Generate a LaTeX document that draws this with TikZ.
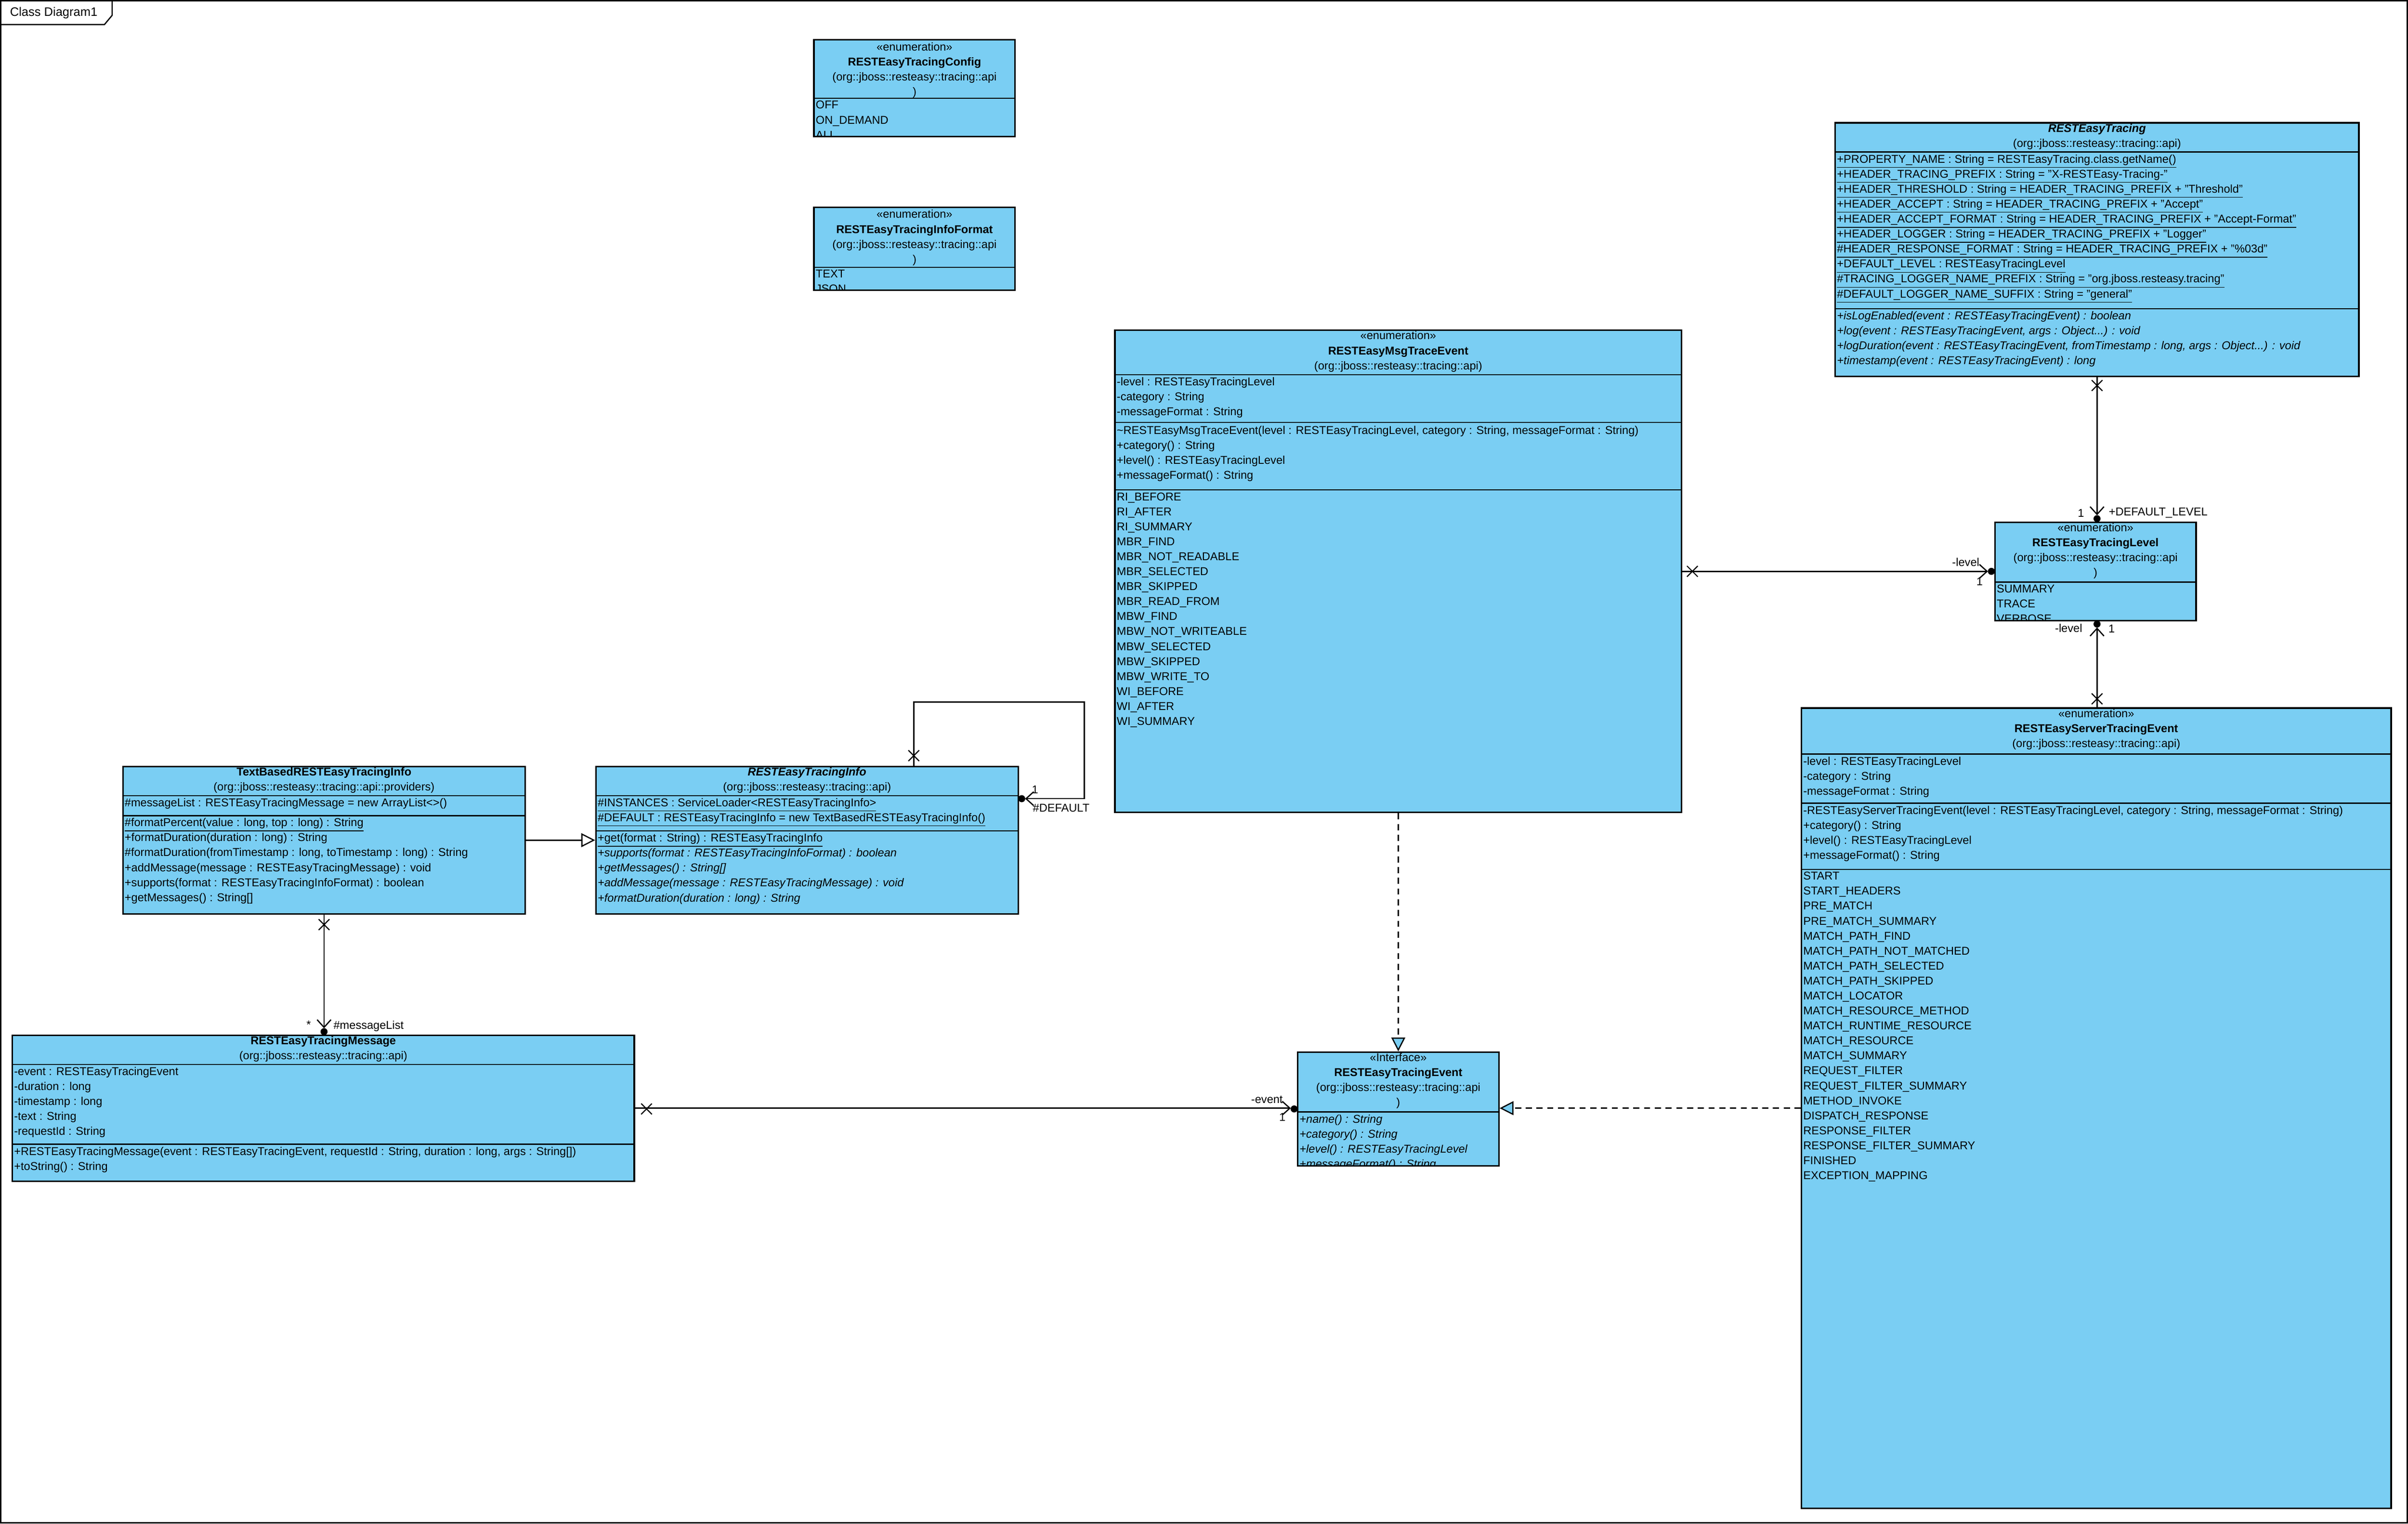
\documentclass[tikz,border=0pt]{standalone}
\usepackage{fontspec}
\setmainfont{Liberation Sans}
\usetikzlibrary{fit,arrows.meta}
\definecolor{boxblue}{RGB}{122,206,243}
\tikzset{
  umlbox/.style={inner sep=0pt, draw, fill=boxblue, line width=1pt},
  txt/.style={inner sep=0pt, font=\fontsize{7.4}{9.75}\selectfont, align=left, anchor=north west},
  hdr/.style={inner sep=0pt, font=\fontsize{7.4}{9.75}\selectfont, align=center, anchor=north},
  lbl/.style={inner sep=0pt, font=\fontsize{7.4}{9}\selectfont},
  nav/.style={line width=0.8pt, -{Straight Barb[length=5pt,width=9pt]}, shorten >=4pt},
  gen/.style={line width=0.8pt, -{Triangle[open,length=9pt,width=9pt,fill=white]}},
  real/.style={line width=0.8pt, dashed, dash pattern=on 4pt off 3pt, -{Triangle[length=9pt,width=9pt,fill=boxblue]}},
  cmp/.style={line width=0.8pt}
}
\newcommand\xmk[2]{\draw[line width=0.7pt] (#1-3.5,#2-3.5) -- (#1+3.5,#2+3.5) (#1-3.5,#2+3.5) -- (#1+3.5,#2-3.5);}
\newcommand\dotmk[2]{\fill (#1,#2) circle (2.3);}
\begin{document}
\begin{tikzpicture}[x=1pt,y=-1pt]
\useasboundingbox (0,0) rectangle (1568,992);
\draw[line width=1pt] (0.5,0.5) rectangle (1567.5,991.5);
\draw[line width=0.8pt] (0.5,16) -- (68,16) -- (73,10) -- (73,0.5);
\node[lbl, font=\fontsize{8}{9}\selectfont] at (35,8.5) {Class Diagram1};

% ---- RESTEasyTracingConfig
\node[umlbox, fit={(530,26)(661,89)}] (cfg) {};
\draw[cmp] (530,64) -- (661,64);
\node[hdr] at (595.5,27.5) {<<enumeration>>\\\textbf{RESTEasyTracingConfig}\\(org::jboss::resteasy::tracing::api\\)};
\begin{scope}\clip (530,64) rectangle (661,88.5);
\node[txt] at (531,65.5) {OFF\\ON\_DEMAND\\ALL};
\end{scope}

% ---- RESTEasyTracingInfoFormat
\node[umlbox, fit={(530,135)(661,189)}] (fmt) {};
\draw[cmp] (530,174) -- (661,174);
\node[hdr] at (595.5,136.5) {<<enumeration>>\\\textbf{RESTEasyTracingInfoFormat}\\(org::jboss::resteasy::tracing::api\\)};
\begin{scope}\clip (530,174) rectangle (661,188.5);
\node[txt] at (531,175.5) {TEXT\\JSON};
\end{scope}

% ---- RESTEasyTracing
\node[umlbox, fit={(1195,80)(1536,245)}] (tr) {};
\draw[cmp] (1195,99) -- (1536,99);
\draw[cmp] (1195,201) -- (1536,201);
\node[hdr] at (1365.5,80.5) {\textbf{\textit{RESTEasyTracing}}\\(org::jboss::resteasy::tracing::api)};
\node[txt] at (1196,100.5) {\underline{+PROPERTY\_NAME : String = RESTEasyTracing.class.getName()}\\
\underline{+HEADER\_TRACING\_PREFIX : String = "X-RESTEasy-Tracing-"}\\
\underline{+HEADER\_THRESHOLD : String = HEADER\_TRACING\_PREFIX + "Threshold"}\\
\underline{+HEADER\_ACCEPT : String = HEADER\_TRACING\_PREFIX + "Accept"}\\
\underline{+HEADER\_ACCEPT\_FORMAT : String = HEADER\_TRACING\_PREFIX + "Accept-Format"}\\
\underline{+HEADER\_LOGGER : String = HEADER\_TRACING\_PREFIX + "Logger"}\\
\underline{\#HEADER\_RESPONSE\_FORMAT : String = HEADER\_TRACING\_PREFIX + "\%03d"}\\
\underline{+DEFAULT\_LEVEL : RESTEasyTracingLevel}\\
\underline{\#TRACING\_LOGGER\_NAME\_PREFIX : String = "org.jboss.resteasy.tracing"}\\
\underline{\#DEFAULT\_LOGGER\_NAME\_SUFFIX : String = "general"}};
\node[txt, font=\fontsize{7.4}{9.75}\selectfont\itshape] at (1196,202.5) {+isLogEnabled(event : RESTEasyTracingEvent) : boolean\\
+log(event : RESTEasyTracingEvent, args : Object...) : void\\
+logDuration(event : RESTEasyTracingEvent, fromTimestamp : long, args : Object...) : void\\
+timestamp(event : RESTEasyTracingEvent) : long};

% ---- RESTEasyMsgTraceEvent
\node[umlbox, fit={(726,215)(1095,529)}] (mte) {};
\draw[cmp] (726,244) -- (1095,244);
\draw[cmp] (726,275) -- (1095,275);
\draw[cmp] (726,319) -- (1095,319);
\node[hdr] at (910.5,215.5) {<<enumeration>>\\\textbf{RESTEasyMsgTraceEvent}\\(org::jboss::resteasy::tracing::api)};
\node[txt] at (727,245.5) {-level : RESTEasyTracingLevel\\-category : String\\-messageFormat : String};
\node[txt] at (727,277) {\textasciitilde RESTEasyMsgTraceEvent(level : RESTEasyTracingLevel, category : String, messageFormat : String)\\+category() : String\\+level() : RESTEasyTracingLevel\\+messageFormat() : String};
\node[txt] at (727,320.5) {RI\_BEFORE\\RI\_AFTER\\RI\_SUMMARY\\MBR\_FIND\\MBR\_NOT\_READABLE\\MBR\_SELECTED\\MBR\_SKIPPED\\MBR\_READ\_FROM\\MBW\_FIND\\MBW\_NOT\_WRITEABLE\\MBW\_SELECTED\\MBW\_SKIPPED\\MBW\_WRITE\_TO\\WI\_BEFORE\\WI\_AFTER\\WI\_SUMMARY};

% ---- RESTEasyTracingLevel
\node[umlbox, fit={(1299,340)(1430,404)}] (lvl) {};
\draw[cmp] (1299,379) -- (1430,379);
\node[hdr] at (1364.5,340.5) {<<enumeration>>\\\textbf{RESTEasyTracingLevel}\\(org::jboss::resteasy::tracing::api\\)};
\begin{scope}\clip (1299,379) rectangle (1430,403.5);
\node[txt] at (1300,380.5) {SUMMARY\\TRACE\\VERBOSE};
\end{scope}

% ---- RESTEasyServerTracingEvent
\node[umlbox, fit={(1173,461)(1557,982)}] (srv) {};
\draw[cmp] (1173,491) -- (1557,491);
\draw[cmp] (1173,523) -- (1557,523);
\draw[cmp] (1173,566) -- (1557,566);
\node[hdr] at (1365,461.5) {<<enumeration>>\\\textbf{RESTEasyServerTracingEvent}\\(org::jboss::resteasy::tracing::api)};
\node[txt] at (1174,492.5) {-level : RESTEasyTracingLevel\\-category : String\\-messageFormat : String};
\node[txt] at (1174,524.5) {-RESTEasyServerTracingEvent(level : RESTEasyTracingLevel, category : String, messageFormat : String)\\+category() : String\\+level() : RESTEasyTracingLevel\\+messageFormat() : String};
\node[txt] at (1174,567.5) {START\\START\_HEADERS\\PRE\_MATCH\\PRE\_MATCH\_SUMMARY\\MATCH\_PATH\_FIND\\MATCH\_PATH\_NOT\_MATCHED\\MATCH\_PATH\_SELECTED\\MATCH\_PATH\_SKIPPED\\MATCH\_LOCATOR\\MATCH\_RESOURCE\_METHOD\\MATCH\_RUNTIME\_RESOURCE\\MATCH\_RESOURCE\\MATCH\_SUMMARY\\REQUEST\_FILTER\\REQUEST\_FILTER\_SUMMARY\\METHOD\_INVOKE\\DISPATCH\_RESPONSE\\RESPONSE\_FILTER\\RESPONSE\_FILTER\_SUMMARY\\FINISHED\\EXCEPTION\_MAPPING};

% ---- TextBasedRESTEasyTracingInfo
\node[umlbox, fit={(80,499)(342,595)}] (tb) {};
\draw[cmp] (80,518) -- (342,518);
\draw[cmp] (80,531) -- (342,531);
\node[hdr] at (211,499.5) {\textbf{TextBasedRESTEasyTracingInfo}\\(org::jboss::resteasy::tracing::api::providers)};
\node[txt] at (81,519.5) {\#messageList : RESTEasyTracingMessage = new ArrayList<>()};
\node[txt] at (81,532.5) {\underline{\#formatPercent(value : long, top : long) : String}\\+formatDuration(duration : long) : String\\\#formatDuration(fromTimestamp : long, toTimestamp : long) : String\\+addMessage(message : RESTEasyTracingMessage) : void\\+supports(format : RESTEasyTracingInfoFormat) : boolean\\+getMessages() : String[]};

% ---- RESTEasyTracingInfo
\node[umlbox, fit={(388,499)(663,595)}] (info) {};
\draw[cmp] (388,518) -- (663,518);
\draw[cmp] (388,541) -- (663,541);
\node[hdr] at (525.5,499.5) {\textbf{\textit{RESTEasyTracingInfo}}\\(org::jboss::resteasy::tracing::api)};
\node[txt] at (389,519.5) {\underline{\#INSTANCES : ServiceLoader<RESTEasyTracingInfo>}\\\underline{\#DEFAULT : RESTEasyTracingInfo = new TextBasedRESTEasyTracingInfo()}};
\node[txt] at (389,542.5) {\underline{+get(format : String) : RESTEasyTracingInfo}\\\textit{+supports(format : RESTEasyTracingInfoFormat) : boolean}\\\textit{+getMessages() : String[]}\\\textit{+addMessage(message : RESTEasyTracingMessage) : void}\\\textit{+formatDuration(duration : long) : String}};

% ---- RESTEasyTracingMessage
\node[umlbox, fit={(8,674)(413,769)}] (msg) {};
\draw[cmp] (8,693) -- (413,693);
\draw[cmp] (8,745) -- (413,745);
\node[hdr] at (210.5,674.5) {\textbf{RESTEasyTracingMessage}\\(org::jboss::resteasy::tracing::api)};
\node[txt] at (9,694.5) {-event : RESTEasyTracingEvent\\-duration : long\\-timestamp : long\\-text : String\\-requestId : String};
\node[txt] at (9,746.5) {+RESTEasyTracingMessage(event : RESTEasyTracingEvent, requestId : String, duration : long, args : String[])\\+toString() : String};

% ---- RESTEasyTracingEvent
\node[umlbox, fit={(845,685)(976,759)}] (ev) {};
\draw[cmp] (845,724) -- (976,724);
\node[hdr] at (910.5,685.5) {<<Interface>>\\\textbf{RESTEasyTracingEvent}\\(org::jboss::resteasy::tracing::api\\)};
\begin{scope}\clip (845,724) rectangle (976,758.5);
\node[txt, font=\fontsize{7.4}{9.75}\selectfont\itshape] at (846,725.5) {+name() : String\\+category() : String\\+level() : RESTEasyTracingLevel\\+messageFormat() : String};
\end{scope}

% ---- connectors
\draw[nav] (tr.south) -- (lvl.north -| tr.south);
\xmk{1365.5}{251} \dotmk{1365.5}{337.7}
\node[lbl] at (1355,334) {1};
\node[lbl, anchor=west] at (1373,334) {+DEFAULT\_LEVEL};

\draw[nav] (mte.east |- lvl.west) -- (lvl.west);
\xmk{1102}{372} \dotmk{1296.7}{372}
\node[lbl] at (1280,366) {-level};
\node[lbl] at (1289,378.5) {1};

\draw[nav] (srv.north -| tr.south) -- (lvl.south -| tr.south);
\xmk{1365.5}{455} \dotmk{1365.5}{406.3}
\node[lbl] at (1347,409) {-level};
\node[lbl] at (1375,409.5) {1};

\draw[nav] (info.north -| 595,0) |- (706,457) |- (info.east |- 0,520);
\xmk{595}{492} \dotmk{665.3}{520}
\node[lbl] at (674,514) {1};
\node[lbl] at (691,526) {\#DEFAULT};

\draw[gen] (tb.east) -- (info.west);

\draw[nav] (tb.south) -- (msg.north -| tb.south);
\xmk{211}{602} \dotmk{211}{671.7}
\node[lbl] at (201,667) {*};
\node[lbl, anchor=west] at (217,668) {\#messageList};

\draw[nav] (msg.east) -- (ev.west |- msg.east);
\xmk{421}{722} \dotmk{842.7}{722}
\node[lbl] at (825,716) {-event};
\node[lbl] at (835,727.5) {1};

\draw[real] (mte.south) -- (ev.north);
\draw[real] (srv.west) -- (ev.east |- srv.west);
\end{tikzpicture}
\end{document}
